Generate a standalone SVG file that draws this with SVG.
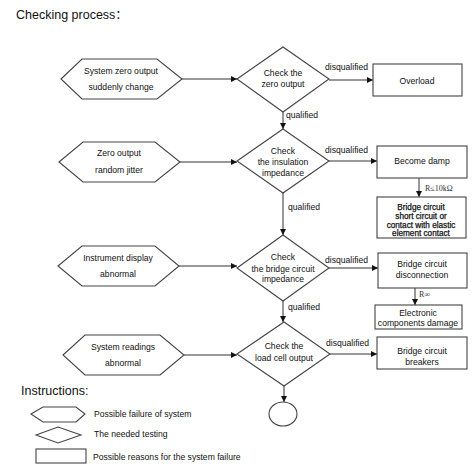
<svg xmlns="http://www.w3.org/2000/svg" width="474" height="468" viewBox="0 0 474 468">
<defs>
<marker id="ah" viewBox="0 0 10 10" refX="10" refY="5" markerWidth="6" markerHeight="6" markerUnits="userSpaceOnUse" orient="auto">
<path d="M0,0 L10,5 L0,10 z" fill="#111"/>
</marker>
<style>
.s{fill:#fff;stroke:#444;stroke-width:1.1}
.t{font-family:"Liberation Sans",Arial,sans-serif;font-size:8.6px;fill:#111;text-anchor:middle}
.tb{font-family:"Liberation Sans",Arial,sans-serif;font-size:8.2px;fill:#111;text-anchor:middle;stroke:#111;stroke-width:0.25}
.l{font-family:"Liberation Sans",Arial,sans-serif;font-size:8.6px;fill:#111}
.r{font-family:"Liberation Serif","Times New Roman",serif;font-size:8px;fill:#333}
.h{font-family:"Liberation Sans",Arial,sans-serif;font-size:12.5px;fill:#111}
.c{stroke:#333;stroke-width:1;fill:none;marker-end:url(#ah)}
</style>
</defs>
<rect width="474" height="468" fill="#fff"/>
<text class="h" x="16" y="19">Checking process<tspan font-family="'Noto Sans CJK SC',sans-serif">：</tspan></text>

<g id="connectors">
<line class="c" x1="182" y1="79" x2="237" y2="79"/>
<line class="c" x1="180" y1="162" x2="237" y2="162"/>
<line class="c" x1="179" y1="266" x2="237" y2="266"/>
<line class="c" x1="184" y1="355" x2="237" y2="355"/>
<line class="c" x1="329" y1="80" x2="373" y2="80"/>
<line class="c" x1="329" y1="161" x2="377" y2="161"/>
<line class="c" x1="329" y1="268" x2="378" y2="268"/>
<line class="c" x1="330" y1="354" x2="377" y2="354"/>
<line class="c" x1="283" y1="112" x2="283" y2="129"/>
<line class="c" x1="283" y1="193" x2="283" y2="235"/>
<line class="c" x1="283" y1="301" x2="283" y2="322"/>
<line class="c" x1="284" y1="386" x2="284" y2="402"/>
<line class="c" x1="419" y1="178" x2="419" y2="197"/>
<line class="c" x1="415" y1="288" x2="415" y2="305"/>
<text class="l" x="325" y="70">disqualified</text>
<text class="l" x="286" y="118">qualified</text>
<text class="l" x="325" y="153">disqualified</text>
<text class="l" x="288" y="210">qualified</text>
<text class="l" x="325" y="263">disqualified</text>
<text class="l" x="288" y="310">qualified</text>
<text class="l" x="326" y="346">disqualified</text>
<text class="r" x="425" y="191">R≤10kΩ</text>
<text class="r" x="419" y="297">R∞</text>
</g>

<g id="hex1">
<polygon class="s" points="61,79 82,59 157,59 182,79 157,99 82,99"/>
<text class="t" x="121" y="74">System zero output</text>
<text class="t" x="121" y="90">suddenly change</text>
</g>
<g id="hex2">
<polygon class="s" points="59,162 83,142 155,142 180,162 155,182 83,182"/>
<text class="t" x="119" y="156">Zero output</text>
<text class="t" x="119" y="173">random jitter</text>
</g>
<g id="hex3">
<polygon class="s" points="58,266 82,246 155,246 179,266 155,286 82,286"/>
<text class="t" x="118" y="261">Instrument display</text>
<text class="t" x="118" y="277">abnormal</text>
</g>
<g id="hex4">
<polygon class="s" points="63,355 85,335 160,335 184,355 160,375 85,375"/>
<text class="t" x="123" y="350">System readings</text>
<text class="t" x="123" y="366">abnormal</text>
</g>

<g id="dia1">
<polygon class="s" points="237,79 283,47 329,79 283,112"/>
<text class="t" x="283" y="76">Check the</text>
<text class="t" x="283" y="87">zero output</text>
</g>
<g id="dia2">
<polygon class="s" points="237,161 283,129 329,161 283,193"/>
<text class="t" x="283" y="154">Check</text>
<text class="t" x="283" y="165">the insulation</text>
<text class="t" x="283" y="176">impedance</text>
</g>
<g id="dia3">
<polygon class="s" points="237,268 283,235 329,268 283,301"/>
<text class="t" x="283" y="260">Check</text>
<text class="t" x="283" y="272">the bridge circuit</text>
<text class="t" x="283" y="282">impedance</text>
</g>
<g id="dia4">
<polygon class="s" points="237,354 284,322 330,354 284,386"/>
<text class="t" x="284" y="349">Check the</text>
<text class="t" x="284" y="361">load cell output</text>
</g>

<g id="box-overload">
<rect class="s" x="373" y="64" width="89" height="32"/>
<text class="t" x="417" y="84">Overload</text>
</g>
<g id="box-damp">
<rect class="s" x="377" y="146" width="90" height="32"/>
<text class="t" x="422" y="164">Become damp</text>
</g>
<g id="box-short">
<rect class="s" x="377" y="197" width="89" height="41"/>
<text class="tb" x="421" y="210">Bridge circuit</text>
<text class="tb" x="421" y="218.8">short circuit or</text>
<text class="tb" x="421" y="227.6">contact with elastic</text>
<text class="tb" x="421" y="236.2">element  contact</text>
</g>
<g id="box-disconnect">
<rect class="s" x="378" y="253" width="89" height="35"/>
<text class="t" x="422" y="267">Bridge circuit</text>
<text class="t" x="422" y="278">disconnection</text>
</g>
<g id="box-electronic">
<rect class="s" x="375" y="305" width="87" height="24"/>
<text class="t" x="418" y="316">Electronic</text>
<text class="t" x="418" y="326">components damage</text>
</g>
<g id="box-breakers">
<rect class="s" x="377" y="337" width="90" height="32"/>
<text class="t" x="422" y="354">Bridge circuit</text>
<text class="t" x="422" y="365">breakers</text>
</g>
<g id="end">
<ellipse class="s" cx="283" cy="414" rx="14" ry="12"/>
</g>

<g id="legend">
<text class="h" x="21" y="395">Instructions:</text>
<polygon class="s" points="31,414 43,407 76,407 85,414 76,422 43,422"/>
<text class="l" x="94" y="417">Possible failure of system</text>
<polygon class="s" points="36,435 58,427 81,435 58,443"/>
<text class="l" x="94" y="437">The needed testing</text>
<rect class="s" x="36" y="449" width="50" height="14"/>
<text class="l" x="93" y="460">Possible reasons for the system failure</text>
</g>
</svg>
